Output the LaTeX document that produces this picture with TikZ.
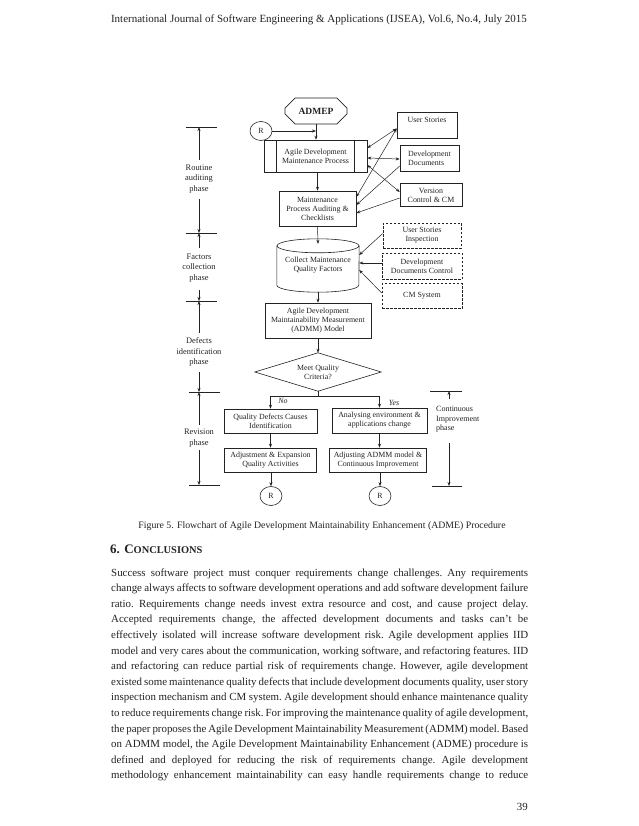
\documentclass[tikz,border=0pt]{standalone}
\usepackage{fontspec}
\setmainfont{Liberation Serif}
\usetikzlibrary{shapes.misc,shapes.geometric,arrows.meta,calc}
\newcommand{\dgfont}{\fontsize{7.9}{9}\selectfont}
\newcommand{\phfont}{\fontsize{8.4}{10.3}\selectfont}
\newcommand{\bdfont}{\fontsize{10.9}{15.6}\selectfont\frenchspacing}
\definecolor{ink}{RGB}{35,35,35}
\begin{document}
\begin{tikzpicture}[x=1pt,y=-1pt,
  boxline/.style={draw=ink, line width=0.6pt},
  thin line/.style={draw=ink, line width=0.5pt},
  box/.style={draw=ink, line width=0.6pt, rectangle, inner sep=0pt, align=center, font=\dgfont, text=ink},
  dbox/.style={box, dash pattern=on 2.5pt off 1.5pt},
  arr/.style={draw=ink, line width=0.5pt, -{Stealth[length=4pt,width=3pt]}},
  darr/.style={draw=ink, line width=0.5pt, {Stealth[length=4pt,width=3pt]}-{Stealth[length=4pt,width=3pt]}},
  phase/.style={font=\phfont, align=center, inner sep=0pt, text=ink},
  circ/.style={draw=ink, line width=0.6pt, ellipse, minimum width=22pt, minimum height=19pt, inner sep=0pt, font=\dgfont, text=ink},
  bodyline/.style={anchor=base west, inner sep=0pt, font=\bdfont, text=ink}
]
\useasboundingbox (0,0) rectangle (638,826);
\fill[white] (0,0) rectangle (638,826);

% header
\node[font=\fontsize{11}{13}\selectfont, text=ink] (hdr) at (319,20) {International Journal of Software Engineering \& Applications (IJSEA), Vol.6, No.4, July 2015};

% ---------- flowchart ----------
\node[draw=ink, line width=0.6pt, chamfered rectangle, chamfered rectangle xsep=7pt, chamfered rectangle ysep=7pt,
      minimum width=62pt, minimum height=26pt, inner sep=0pt, font=\bfseries\fontsize{9.5}{11}\selectfont, text=ink] (admep) at (316,111) {ADMEP};
\node[circ] (r1) at (261,131) {R};

\node[box, minimum width=103pt, minimum height=32pt] (adp) at (315.5,156) {Agile Development\\Maintenance Process};
\draw[boxline] ([xshift=13pt]adp.north west) -- ([xshift=13pt]adp.south west);
\draw[boxline] ([xshift=-13pt]adp.north east) -- ([xshift=-13pt]adp.south east);

\coordinate (join) at (admep.south |- r1);
\draw[arr] (admep.south) -- (admep.south |- adp.north);
\draw[arr] (r1.east) -- (join);

\node[box, minimum width=77pt, minimum height=35pt] (aud) at (317.5,208.5) {Maintenance\\Process Auditing \&\\Checklists};
\draw[arr] (aud.north |- adp.south) -- (aud.north);

\node[box, minimum width=60pt, minimum height=26pt, text height=7pt, text depth=12pt] (us) at (427,125.5) {User Stories};
\node[box, minimum width=59pt, minimum height=26pt, align=left] (dd) at (429.5,158.5) {Development\\Documents};
\node[box, minimum width=62pt, minimum height=23pt] (vc) at (431,195) {Version\\Control \& CM};

\draw[darr] ([yshift=8pt]adp.east) -- ([yshift=-3pt]us.west);
\draw[darr] ([yshift=-2pt]adp.east) -- ([yshift=-0.5pt]dd.west);
\draw[darr] ([yshift=-9pt]adp.east) -- ([yshift=3pt]vc.west);
\draw[darr] ([yshift=11.5pt]aud.east) -- ([yshift=-3pt]us.west);
\draw[arr] ([yshift=-7.5pt]dd.west) -- ([yshift=3.5pt]aud.east);
\draw[arr] ([yshift=-3pt]vc.west) -- ([yshift=-4.5pt]aud.east);

% cylinder
\node[font=\dgfont, text=ink, align=center, minimum width=82pt, minimum height=53pt, inner sep=0pt] (cyl) at (318,265.5) {Collect Maintenance\\Quality Factors};
\draw[boxline] ([yshift=-7pt]cyl.north) ellipse [x radius=41, y radius=7];
\draw[boxline] ([yshift=-7pt]cyl.north west) -- ([yshift=7pt]cyl.south west)
   arc[start angle=180, end angle=0, x radius=41, y radius=7] -- ([yshift=-7pt]cyl.north east);
\draw[arr] (aud.south) -- ([yshift=-5pt]cyl.north);

\node[dbox, minimum width=78pt, minimum height=25pt] (usi) at (422,235.5) {User Stories\\Inspection};
\node[dbox, minimum width=80pt, minimum height=26pt] (ddc) at (422,266) {Development\\Documents Control};
\node[dbox, minimum width=80pt, minimum height=25pt] (cms) at (422,296) {CM System};

\draw[arr] ([yshift=2pt]usi.west) -- ([yshift=10.5pt]cyl.east);
\draw[arr] ([yshift=3pt]ddc.west) -- ([yshift=2.5pt]cyl.east);
\draw[arr] ([yshift=3pt]cms.west) -- ([yshift=-4.5pt]cyl.east);

\node[box, minimum width=106pt, minimum height=35pt] (admm) at (318,320.5) {Agile Development\\Maintainability Measurement\\(ADMM) Model};
\draw[arr] (cyl.south) -- (admm.north);

% decision
\node[font=\dgfont, text=ink, align=center, minimum width=126pt, minimum height=38pt, inner sep=0pt] (dia) at (318,372) {Meet Quality\\Criteria?};
\draw[boxline] (dia.north) -- (dia.east) -- (dia.south) -- (dia.west) -- cycle;
\draw[arr] (admm.south) -- (dia.north);

\node[box, minimum width=93pt, minimum height=24pt] (qd) at (270.5,421) {Quality Defects Causes\\Identification};
\node[box, minimum width=95pt, minimum height=25pt] (an) at (379.5,420.5) {Analysing environment \&\\applications change};

\coordinate (br) at (318,396);
\draw[thin line] (dia.south) -- (br);
\draw[thin line] (qd.north |- br) -- (an.north |- br);
\draw[arr] (qd.north |- br) -- (qd.north);
\draw[arr] (an.north |- br) -- (an.north);
\node[font=\dgfont\itshape, text=ink, inner sep=0pt] (no) at (283,401) {No};
\node[font=\dgfont\itshape, text=ink, inner sep=0pt] (yes) at (394,403) {Yes};

\node[box, minimum width=92pt, minimum height=24pt] (adj1) at (270.5,460) {Adjustment \& Expansion\\Quality Activities};
\node[box, minimum width=97pt, minimum height=24pt] (adj2) at (378,460) {Adjusting ADMM model \&\\Continuous Improvement};
\draw[arr] (qd.south) -- (qd.south |- adj1.north);
\draw[arr] (an.south) -- (an.south |- adj2.north);

\node[circ] (r2) at (271,496) {R};
\node[circ] (r3) at (380,496) {R};
\draw[arr] (adj1.south -| r2) -- (r2.north);
\draw[arr] (adj2.south -| r3) -- (r3.north);

% ---------- phases (left) ----------
\coordinate (p1) at (201,127);
\coordinate (p2) at (201,233);
\coordinate (p3) at (201,301);
\coordinate (p4) at (204,392);
\coordinate (p5) at (204,485);
\foreach \p in {p1,p2,p3,p4,p5} \draw[thin line] ([xshift=-15pt]\p) -- ([xshift=16pt]\p);

\node[phase] (ph1) at (199,179) {Routine\\auditing\\phase};
\node[phase] (ph2) at (199,268) {Factors\\collection\\phase};
\node[phase] (ph3) at (199,352) {Defects\\identification\\phase};
\node[phase] (ph4) at (199,438) {Revision\\phase};

\coordinate (a1) at (199,160);
\coordinate (a2) at (199,199);
\coordinate (a3) at (199,248);
\coordinate (a4) at (199,290);
\coordinate (a5) at (199,333);
\coordinate (a6) at (199,372);
\coordinate (a7) at (199,425);
\coordinate (a8) at (199,450);
\draw[arr] (a1) -- (a1 |- p1);
\draw[arr] (a2) -- (a2 |- p2);
\draw[arr] (a3) -- (a3 |- p2);
\draw[arr] (a4) -- (a4 |- p3);
\draw[arr] (a5) -- (a5 |- p3);
\draw[arr] (a6) -- (a6 |- p4);
\draw[arr] (a7) -- (a7 |- p4);
\draw[arr] (a8) -- (a8 |- p5);

% ---------- phase (right) ----------
\coordinate (q1) at (446,391);
\coordinate (q2) at (447,486);
\draw[thin line] ([xshift=-16pt]q1) -- ([xshift=16pt]q1);
\draw[thin line] ([xshift=-15pt]q2) -- ([xshift=15pt]q2);
\node[phase, align=left, anchor=west, font=\fontsize{8}{9.5}\selectfont] (ph5) at (436,419.5) {Continuous\\Improvement\\phase};
\coordinate (c1) at (449,399);
\coordinate (c2) at (449,443);
\draw[arr] (c1) -- (c1 |- q1);
\draw[arr] (c2) -- (c2 |- q2);

% ---------- caption & text ----------
\node[font=\fontsize{9.8}{12}\selectfont, text=ink] (cap) at (322,526) {Figure 5. Flowchart of Agile Development Maintainability Enhancement (ADME) Procedure};
\node[anchor=base west, inner sep=0pt, font=\bfseries\fontsize{13}{15}\selectfont, text=ink] (sec) at (110,553) {6. C{\fontsize{10.4}{12}\selectfont ONCLUSIONS}};

\node[bodyline] (b1) at (111,576.0) {\makebox[417pt][s]{Success software project must conquer requirements change challenges. Any requirements}};
\node[bodyline] (b2) at (111,591.6) {\makebox[417pt][s]{change always affects to software development operations and add software development failure}};
\node[bodyline] (b3) at (111,607.2) {\makebox[417pt][s]{ratio. Requirements change needs invest extra resource and cost, and cause project delay.}};
\node[bodyline] (b4) at (111,622.8) {\makebox[417pt][s]{Accepted requirements change, the affected development documents and tasks can’t be}};
\node[bodyline] (b5) at (111,638.4) {\makebox[417pt][s]{effectively isolated will increase software development risk. Agile development applies IID}};
\node[bodyline] (b6) at (111,654.0) {\makebox[417pt][s]{model and very cares about the communication, working software, and refactoring features. IID}};
\node[bodyline] (b7) at (111,669.6) {\makebox[417pt][s]{and refactoring can reduce partial risk of requirements change. However, agile development}};
\node[bodyline] (b8) at (111,685.2) {\makebox[417pt][s]{existed some maintenance quality defects that include development documents quality, user story}};
\node[bodyline] (b9) at (111,700.8) {\makebox[417pt][s]{inspection mechanism and CM system. Agile development should enhance maintenance quality}};
\node[bodyline] (b10) at (111,716.4) {\makebox[417pt][s]{to reduce requirements change risk. For improving the maintenance quality of agile development,}};
\node[bodyline] (b11) at (111,732.0) {\makebox[417pt][s]{the paper proposes the Agile Development Maintainability Measurement (ADMM) model. Based}};
\node[bodyline] (b12) at (111,747.6) {\makebox[417pt][s]{on ADMM model, the Agile Development Maintainability Enhancement (ADME) procedure is}};
\node[bodyline] (b13) at (111,763.2) {\makebox[417pt][s]{defined and deployed for reducing the risk of requirements change. Agile development}};
\node[bodyline] (b14) at (111,778.8) {\makebox[417pt][s]{methodology enhancement maintainability can easy handle requirements change to reduce}};
\node[anchor=base east, inner sep=0pt, font=\bdfont, text=ink] (pg) at (528,810) {39};
\end{tikzpicture}
\end{document}
